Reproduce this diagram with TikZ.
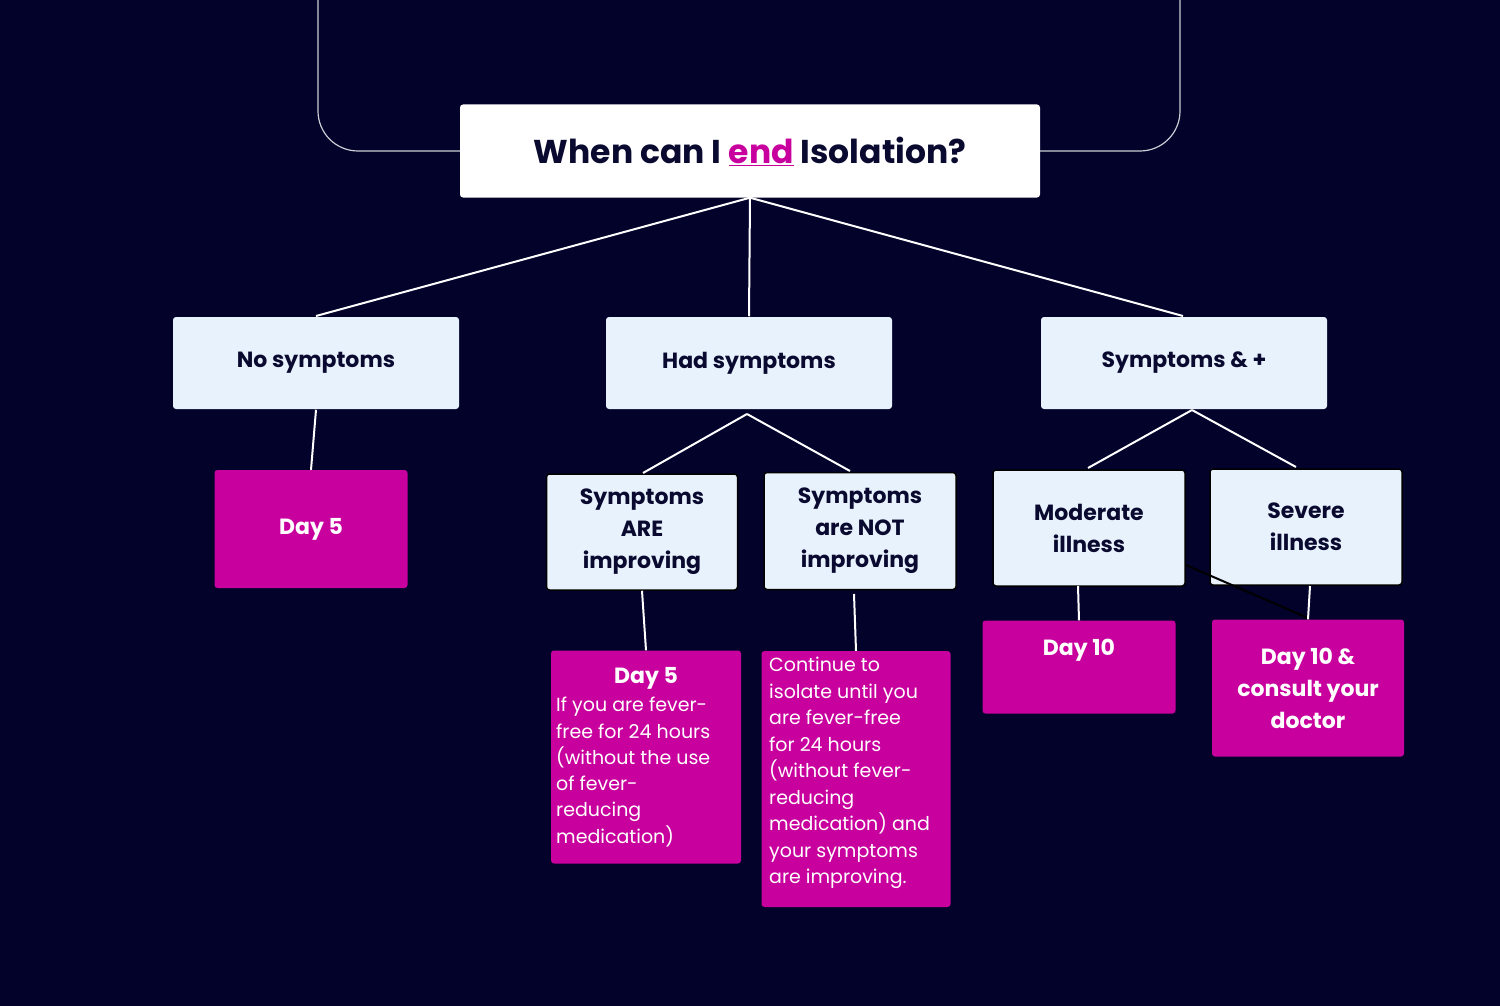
\documentclass[tikz,border=0pt]{standalone}
\usepackage{fontspec}
\setmainfont{Poppins}
\definecolor{bg}{HTML}{02022B}
\definecolor{lb}{HTML}{E8F2FC}
\definecolor{mg}{HTML}{C8009E}
\definecolor{tx}{HTML}{0A0A30}
\begin{document}
\begin{tikzpicture}[x=1pt,y=-1pt,
 lbox/.style={fill=lb,draw=black,line width=1.5pt,rounded corners=3pt,text=tx,align=center,font=\fontsize{22}{32}\selectfont\bfseries,inner sep=0pt},
 mbox/.style={fill=mg,rounded corners=3pt,text=white,inner sep=0pt},
 conn/.style={draw=white,line width=2pt}]
\fill[bg] (0,0) rectangle (1500,1006);
\useasboundingbox (0,0) rectangle (1500,1006);
% top outline
\node[fill=white,rounded corners=3pt,minimum width=580,minimum height=93,inner sep=0pt,text=tx,font=\fontsize{33}{40}\selectfont\bfseries] (title) at (750,151) {When can I \textcolor{mg}{\underline{end}} Isolation?};
\coordinate (tl) at (318,0); \coordinate (tr) at (1180,0);
\draw[white!80!bg,line width=1.2pt,rounded corners=40pt] (tl) -- (318,151) -- (title.west);
\draw[white!80!bg,line width=1.2pt,rounded corners=40pt] (tr) -- (1180,151) -- (title.east);
% level 1
\node[lbox,draw=none,minimum width=286,minimum height=92] (no) at (316,363) {No symptoms};
\node[lbox,draw=none,minimum width=286,minimum height=92] (had) at (749,363) {Had symptoms};
\node[lbox,draw=none,minimum width=286,minimum height=92] (plus) at (1184,363) {Symptoms \& +};
\draw[conn] (title.south) -- (316,316);
\draw[conn] (title.south) -- (had.north);
\draw[conn] (title.south) -- (1183,316);
% no symptoms
\node[mbox,minimum width=193,minimum height=118,font=\fontsize{22}{30}\selectfont\bfseries] (d5) at (311,529) {Day 5};
\draw[conn] (no.south) -- (d5.north);
% had symptoms
\node[lbox,minimum width=191,minimum height=116] (are) at (642,532) {Symptoms\\ARE\\improving};
\node[lbox,minimum width=192,minimum height=117] (not) at (860,531) {Symptoms\\are NOT\\improving};
\coordinate (hs) at (747,414);
\draw[conn] (hs) -- (643,473);
\draw[conn] (hs) -- (850,471);
\node[mbox,minimum width=190,minimum height=213] (areb) at (646,757) {};
\node[anchor=north,text=white,font=\fontsize{22}{30}\selectfont\bfseries] at (646,664) {Day 5};
\node[anchor=north west,text=white,align=left,inner sep=0pt,font=\fontsize{19}{26.3}\selectfont] at (556,697) {If you are fever-\\free for 24 hours\\(without the use\\of fever-\\reducing\\medication)};
\draw[conn] (are.south) -- (areb.north);
\node[mbox,minimum width=189,minimum height=256] (notb) at (856,779) {};
\node[anchor=north west,text=white,align=left,inner sep=0pt,font=\fontsize{19}{26.5}\selectfont] at (769,657) {Continue to\\isolate until you\\are fever-free\\for 24 hours\\(without fever-\\reducing\\medication) and\\your symptoms\\are improving.};
\draw[conn] (854,594) -- (notb.north);
% symptoms & +
\node[lbox,minimum width=192,minimum height=116] (mod) at (1089,528) {Moderate\\illness};
\node[lbox,minimum width=192,minimum height=116] (sev) at (1306,527) {Severe\\illness};
\coordinate (ps) at (1192,410);
\draw[conn] (ps) -- (1088,468);
\draw[conn] (ps) -- (1296,467);
\node[mbox,minimum width=193,minimum height=93] (d10) at (1079,667) {};
\node[anchor=north,text=white,font=\fontsize{22}{30}\selectfont\bfseries] at (1079,636) {Day 10};
\node[mbox,minimum width=192,minimum height=137,align=center,font=\fontsize{22}{32}\selectfont\bfseries] (d10c) at (1308,688) {Day 10 \&\\consult your\\doctor};
\draw[black,line width=2pt] (mod.east |- 0,565) -- (1308,618);
\draw[conn] (1078,586) -- (d10.north);
\draw[conn] (1310,586) -- (d10c.north);
\end{tikzpicture}
\end{document}
